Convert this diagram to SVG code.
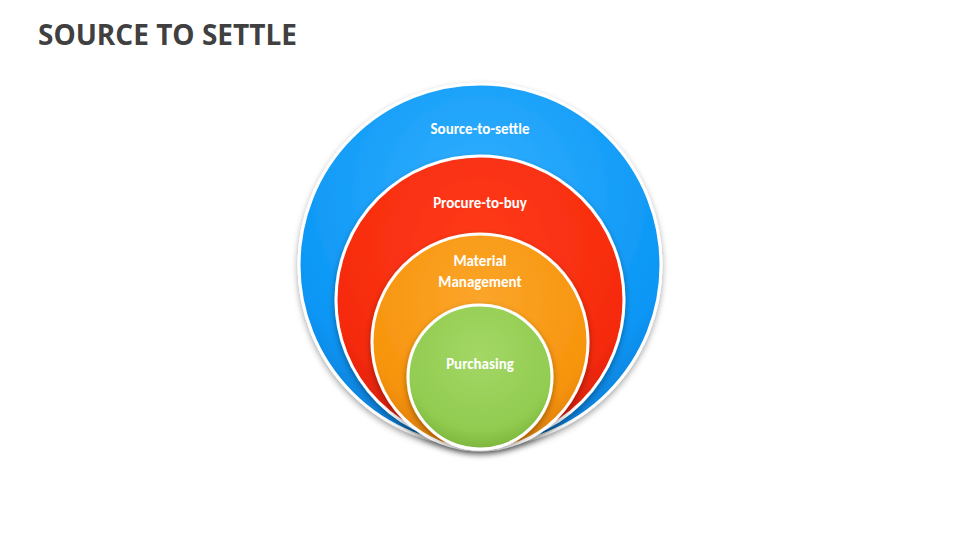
<svg xmlns="http://www.w3.org/2000/svg" width="960" height="540" viewBox="0 0 960 540">
<defs>
<radialGradient id="gb" cx="50%" cy="30%" r="70%"><stop offset="0" stop-color="#33b0ff"/><stop offset="0.8" stop-color="#0a96f5"/><stop offset="1" stop-color="#0b7fd8"/></radialGradient>
<radialGradient id="gr" cx="50%" cy="30%" r="70%"><stop offset="0" stop-color="#ff3a1a"/><stop offset="0.8" stop-color="#f52a0c"/><stop offset="1" stop-color="#d82008"/></radialGradient>
<radialGradient id="go" cx="50%" cy="30%" r="70%"><stop offset="0" stop-color="#fba52a"/><stop offset="0.8" stop-color="#f7940c"/><stop offset="1" stop-color="#e07f05"/></radialGradient>
<radialGradient id="gg" cx="50%" cy="35%" r="65%"><stop offset="0" stop-color="#a3d766"/><stop offset="0.8" stop-color="#92cc50"/><stop offset="1" stop-color="#7cb63c"/></radialGradient>
<filter id="sh" x="-20%" y="-20%" width="140%" height="140%"><feDropShadow dx="0" dy="3" stdDeviation="3" flood-color="#000" flood-opacity="0.35"/></filter>
</defs>
<style>
.c{stroke:#fff;stroke-width:3;filter:url(#sh)}
.t{font-family:Calibri,"Open Sans","Liberation Sans",sans-serif;font-size:15px;font-weight:bold;fill:#fff;text-anchor:middle}
</style>
<rect width="960" height="540" fill="#fff"/>
<text x="38" y="45" font-family="'Open Sans','Liberation Sans',sans-serif" font-size="28" font-weight="bold" fill="#404040">SOURCE TO SETTLE</text>
<g id="source-to-settle"><circle class="c" cx="480" cy="265" r="181" fill="url(#gb)"/><text class="t" x="480" y="134">Source-to-settle</text></g>
<g id="procure-to-buy"><circle class="c" cx="480" cy="300" r="144" fill="url(#gr)"/><text class="t" x="480" y="208">Procure-to-buy</text></g>
<g id="material-management"><circle class="c" cx="480" cy="342" r="108" fill="url(#go)"/><text class="t" x="480" y="266">Material</text><text class="t" x="480" y="287">Management</text></g>
<g id="purchasing"><circle class="c" cx="480" cy="377" r="72" fill="url(#gg)"/><text class="t" x="480" y="369">Purchasing</text></g>
<g id="connectors"/>
</svg>
